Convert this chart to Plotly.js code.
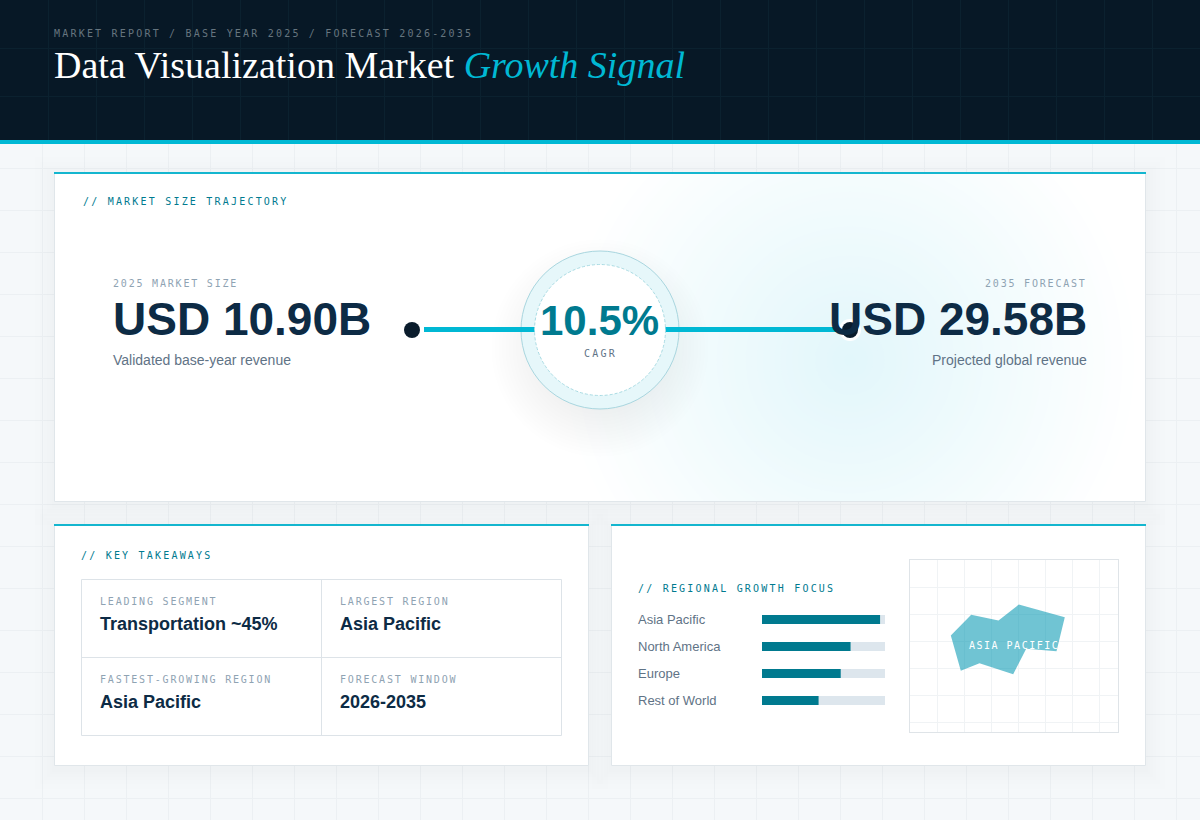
<!DOCTYPE html>
<html>
<head>
<meta charset="utf-8">
<title>Data Visualization Market Growth Signal</title>
<script src="https://cdn.plot.ly/plotly-3.0.1.min.js"></script>
<style>
  html, body { margin: 0; padding: 0; background: #f5f8fa; }
  #chart { width: 1200px; height: 820px; }
</style>
</head>
<body>
<div id="chart"></div>
<script>
// values
const marketYears = [2025, 2035];
const marketBaseline = [0, 0];
const startLabel = "2025 MARKET SIZE";
const startValue = "USD 10.90B";
const startNote = "Validated base-year revenue";
const endLabel = "2035 FORECAST";
const endValue = "USD 29.58B";
const endNote = "Projected global revenue";
const cagrValue = "10.5%";
const cagrLabel = "CAGR";

const takeawayLabels = ["LEADING SEGMENT", "LARGEST REGION", "FASTEST-GROWING REGION", "FORECAST WINDOW"];
const takeawayValues = ["Transportation ~45%", "Asia Pacific", "Asia Pacific", "2026-2035"];

const regionNames = ["Asia Pacific", "North America", "Europe", "Rest of World"];
const regionShares = [96, 72, 64, 46];
const regionTrack = [100, 100, 100, 100];

const mapX = [61.7, 89, 109.3, 155.3, 147, 116.7, 103.7, 70, 51.3, 41.3, 61.7];
const mapY = [55.3, 61, 45, 57.7, 91.7, 89.3, 114.7, 103.7, 111.3, 76, 55.3];

const NAVY = "#0d2b45", TEAL = "#007a8f", CYAN = "#00b8d4", DARK = "#071826";
const SERIF = "'Liberation Serif', serif", SANS = "'Liberation Sans', Arial, sans-serif", MONO = "'DejaVu Sans Mono', monospace";

const px = (x) => x / 1200;
const py = (y) => 1 - y / 820;
const spaced = (s, n) => '<span style="letter-spacing:' + n + 'px">' + s + "</span>";

// paper rect in page pixels
function rect(x0, y0, x1, y1, fill, line) {
    return {
        type: "rect", xref: "paper", yref: "paper", layer: "below",
        x0: px(x0), x1: px(x1), y0: py(y0), y1: py(y1),
        fillcolor: fill || "rgba(0,0,0,0)",
        line: line ? { color: line, width: 1 } : { width: 0 },
    };
}
function hline(x0, x1, y, color) {
    return { type: "line", xref: "paper", yref: "paper", layer: "below", x0: px(x0), x1: px(x1), y0: py(y), y1: py(y), line: { color: color, width: 1 } };
}
function vline(x, y0, y1, color) {
    return { type: "line", xref: "paper", yref: "paper", layer: "below", x0: px(x), x1: px(x), y0: py(y0), y1: py(y1), line: { color: color, width: 1 } };
}
function circle(cx, cy, r, fill, line, ref) {
    return {
        type: "circle", xref: ref[0], yref: ref[1], layer: "below",
        x0: cx - r, x1: cx + r, y0: cy - r, y1: cy + r,
        fillcolor: fill, line: line || { width: 0 },
    };
}

const shapes = [];

// page grid
for (let x = 42; x < 1200; x += 42) shapes.push(vline(x + 0.5, 144, 820, "#ecf0f3"));
for (let y = 168; y < 820; y += 42) shapes.push(hline(0, 1200, y + 0.5, "#ecf0f3"));

// header
shapes.push(rect(0, 0, 1200, 140, DARK));
for (let x = 48; x < 1200; x += 48) shapes.push(vline(x + 0.5, 0, 140, "#0b212f"));
for (let y = 48; y < 140; y += 48) shapes.push(hline(0, 1200, y + 0.5, "#0b212f"));
shapes.push(rect(0, 140, 1200, 144, CYAN));

// cards, shadows first so no card gets painted over
const cards = [[54, 172, 1146, 502], [54, 524, 589, 766], [611, 524, 1146, 766]];
cards.forEach(([x0, y0, x1, y1]) => {
    [19, 14, 10, 7, 4, 2].forEach((s) => {
        const soft = rect(x0 - s, y0 - s + 4, x1 + s, y1 + s + 4, "rgb(13,43,69)");
        soft.opacity = 0.004;
        shapes.push(soft);
    });
});
cards.forEach(([x0, y0, x1, y1]) => {
    shapes.push(rect(x0 + 0.5, y0 + 0.5, x1 - 0.5, y1 - 0.5, "#ffffff", "#e0e6ea"));
    shapes.push(rect(x0, y0, x1, y0 + 2, "#14b6cf"));
});

// takeaways table
shapes.push(rect(81.5, 579.5, 561.5, 735.5, null, "#dde3e8"));
shapes.push(vline(321.5, 579.5, 735.5, "#dde3e8"));
shapes.push(hline(81.5, 561.5, 657.5, "#dde3e8"));

// soft glow behind the forecast end, clipped to the card by its subplot
const glowSteps = 50, glowR = 290;
for (let i = glowSteps; i >= 1; i--) {
    const t = 1 - i / glowSteps;
    const a = 0.115 * t;
    const c = [0, 180, 216].map((v) => Math.round(255 + (v - 255) * a));
    shapes.push(circle(850, 360, glowR * i / glowSteps, "rgb(" + c.join(",") + ")", null, ["x", "y"]));
}

// CAGR badge and connector, in the page-sized subplot so they sit over the glow
const O = ["x2", "y2"];
for (let i = 14; i >= 1; i--) {
    const soft = circle(600, 348, 60 + i * 3.5, "rgb(13,43,69)", null, O);
    soft.opacity = 0.004;
    shapes.push(soft);
}
shapes.push(circle(600, 330, 79, "#e6f7fa", { color: "#a9d6df", width: 1 }, O));
shapes.push({ type: "rect", xref: "x2", yref: "y2", layer: "below", x0: 424, x1: 850, y0: 327, y1: 332, fillcolor: CYAN, line: { width: 0 } });
shapes.push(circle(600, 330, 65.5, "#ffffff", { color: "#a9dbe3", width: 1, dash: "3px,2px" }, O));
shapes.push(circle(850, 330, 11, "#ffffff", null, O));

// text
const annotations = [];
function text(x, y, s, size, color, family, align, weight) {
    annotations.push({
        xref: "paper", yref: "paper", x: px(x), y: py(y), text: s, showarrow: false,
        xanchor: align || "left", yanchor: "middle", align: align || "left",
        borderpad: 0, borderwidth: 0,
        font: { size: size, color: color, family: family, weight: weight || 400 },
    });
}
text(54, 33, spaced("MARKET REPORT / BASE YEAR 2025 / FORECAST 2026-2035", 2.2), 10, "#66757f", MONO);
text(54, 65, 'Data Visualization Market <span style="color:#00b8d4"><i>Growth Signal</i></span>', 38, "#ffffff", SERIF);

text(83, 201, spaced("// MARKET SIZE TRAJECTORY", 2.2), 10, TEAL, MONO);
text(81, 555, spaced("// KEY TAKEAWAYS", 2.2), 10, TEAL, MONO);
text(638, 588.5, spaced("// REGIONAL GROWTH FOCUS", 2.2), 10, TEAL, MONO);

text(113, 283, spaced(startLabel, 1.8), 10, "#8fa3b3", MONO);
text(113, 319, startValue, 46, NAVY, SANS, "left", 700);
text(113, 360, startNote, 14, "#5f7386", SANS);
text(1087, 283, spaced(endLabel, 1.8), 10, "#8fa3b3", MONO, "right");
text(1087, 319, endValue, 46, NAVY, SANS, "right", 700);
text(1087, 360, endNote, 14, "#5f7386", SANS, "right");

text(599.5, 320, cagrValue, 42, TEAL, SANS, "center", 700);
text(600, 354, spaced(cagrLabel, 2.2), 10, "#5f7386", MONO, "center");

const cellX = [100, 340, 100, 340];
const cellLabelY = [601, 601, 679, 679];
const cellValueY = [624, 624, 702, 702];
takeawayLabels.forEach((label, i) => {
    text(cellX[i], cellLabelY[i], spaced(label, 1.8), 10, "#8fa3b3", MONO);
    text(cellX[i], cellValueY[i], takeawayValues[i], 18, NAVY, SANS, "left", 700);
});

regionNames.forEach((name) => {
    annotations.push({
        xref: "paper", yref: "y4", x: px(638), y: name, text: name, showarrow: false,
        xanchor: "left", yanchor: "middle", align: "left", borderpad: 0, borderwidth: 0,
        font: { size: 13, color: "#5f7386", family: SANS },
    });
});
text(968.5, 645, spaced("ASIA PACIFIC", 1.5), 10, "#ffffff", MONO);

// traces
const traceDots = {
    type: "scatter", mode: "markers", x: marketYears, y: marketBaseline, xaxis: "x3", yaxis: "y3",
    marker: { size: 16, color: "#0a1c2c", line: { width: 0 } }, cliponaxis: false, hoverinfo: "skip",
};
const traceTrack = {
    type: "bar", orientation: "h", x: regionTrack, y: regionNames, xaxis: "x4", yaxis: "y4",
    marker: { color: "#dde6ed", line: { width: 0 } }, hoverinfo: "skip",
};
const traceShare = {
    type: "bar", orientation: "h", x: regionShares, y: regionNames, xaxis: "x4", yaxis: "y4",
    marker: { color: TEAL, line: { width: 0 } }, hoverinfo: "skip",
};
const traceMap = {
    type: "scatter", mode: "lines", x: mapX, y: mapY, xaxis: "x5", yaxis: "y5",
    fill: "toself", fillcolor: "rgba(0,150,176,0.56)", line: { width: 0 }, hoverinfo: "skip",
};

const hidden = { visible: false, fixedrange: true };
// year axis: 2025 falls on x=412, 2035 on x=850
const pxPerYear = (850 - 412) / 10;

const layout = {
    width: 1200, height: 820,
    margin: { l: 0, r: 0, t: 0, b: 0, pad: 0 },
    paper_bgcolor: "#f5f8fa",
    plot_bgcolor: "rgba(0,0,0,0)",
    showlegend: false,
    barmode: "overlay",
    bargap: 1 - 9 / 27,
    xaxis: { ...hidden, domain: [px(55), px(1145)], range: [55, 1145] },
    yaxis: { ...hidden, domain: [py(501), py(174)], range: [501, 174] },
    xaxis2: { ...hidden, domain: [0, 1], range: [0, 1200], anchor: "y2" },
    yaxis2: { ...hidden, domain: [0, 1], range: [820, 0], anchor: "x2" },
    xaxis3: { ...hidden, domain: [0, 1], range: [2025 - 412 / pxPerYear, 2025 + (1200 - 412) / pxPerYear], anchor: "y3" },
    yaxis3: { ...hidden, domain: [py(340), py(320)], range: [-1, 1], anchor: "x3" },
    xaxis4: { ...hidden, domain: [px(762), px(885)], range: [0, 100], anchor: "y4" },
    yaxis4: { ...hidden, domain: [py(714), py(606)], range: [3.5, -0.5], type: "category", categoryarray: regionNames, categoryorder: "array", anchor: "x4" },
    xaxis5: {
        fixedrange: true, domain: [px(909.5), px(1118)], range: [0, 208.5], anchor: "y5",
        showticklabels: false, ticks: "", zeroline: false,
        showgrid: true, gridcolor: "#f0f3f5", gridwidth: 1, tick0: 27.5, dtick: 27,
        showline: true, mirror: true, linecolor: "#dfe4e8", linewidth: 1,
    },
    yaxis5: {
        fixedrange: true, domain: [py(732), py(559.5)], range: [172.5, 0], anchor: "x5",
        showticklabels: false, ticks: "", zeroline: false,
        showgrid: true, gridcolor: "#f0f3f5", gridwidth: 1, tick0: 27.5, dtick: 27,
        showline: true, mirror: true, linecolor: "#dfe4e8", linewidth: 1,
    },
    shapes: shapes,
    annotations: annotations,
};

const config = { responsive: false, displayModeBar: false, staticPlot: true };
Plotly.newPlot("chart", [traceDots, traceTrack, traceShare, traceMap], layout, config);
</script>
</body>
</html>
